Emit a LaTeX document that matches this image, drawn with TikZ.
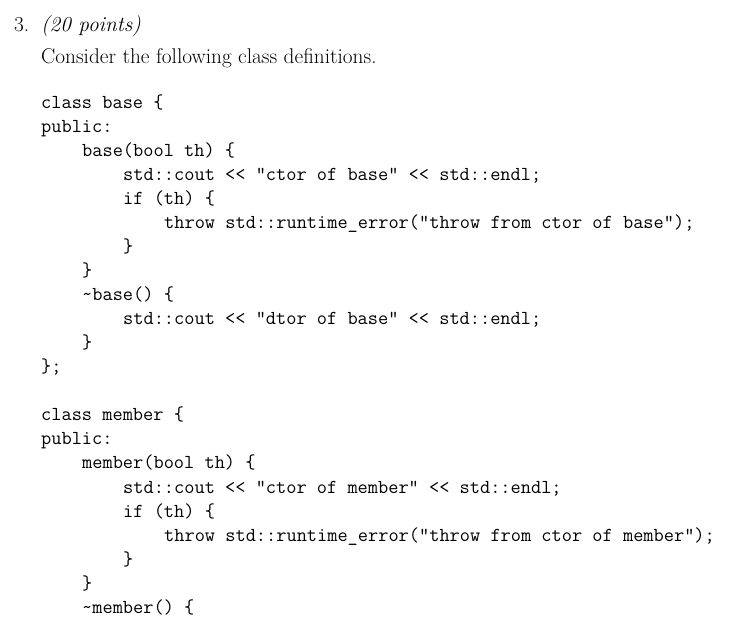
\documentclass[tikz,border=0pt]{standalone}
\usepackage{fontspec}
\begin{document}
\begin{tikzpicture}[x=1pt,y=-1pt,
  tt/.style={anchor=base west,inner sep=0pt,font=\fontsize{19.8}{22}\selectfont\ttfamily},
  rm/.style={anchor=base west,inner sep=0pt,font=\fontsize{21.3}{24}\selectfont}]
\useasboundingbox (0,0) rectangle (733,627);
\node[rm] (n) at (14,31) {3.};
\node[rm] (p) at (41,31) {\itshape (20 points)};
\node[rm] (c) at (41,63) {Consider the following class definitions.};
\node[tt] (l1) at (41,108) {class base \{};
\node[tt] (l2) at (41,132) {public:};
\node[tt] (l3) at (82,156) {base(bool th) \{};
\node[tt] (l4) at (123,180) {std::cout << "ctor of base" << std::endl;};
\node[tt] (l5) at (123,204) {if (th) \{};
\node[tt] (l6) at (164,228) {throw std::runtime\_error("throw from ctor of base");};
\node[tt] (l7) at (123,252) {\}};
\node[tt] (l8) at (82,276) {\}};
\node[tt] (l9) at (82,300) {\textasciitilde base() \{};
\node[tt] (l10) at (123,324) {std::cout << "dtor of base" << std::endl;};
\node[tt] (l11) at (82,348) {\}};
\node[tt] (l12) at (41,372) {\};};
\node[tt] (m1) at (41,420) {class member \{};
\node[tt] (m2) at (41,444) {public:};
\node[tt] (m3) at (82,468) {member(bool th) \{};
\node[tt] (m4) at (123,493) {std::cout << "ctor of member" << std::endl;};
\node[tt] (m5) at (123,517) {if (th) \{};
\node[tt] (m6) at (164,541) {throw std::runtime\_error("throw from ctor of member");};
\node[tt] (m7) at (123,565) {\}};
\node[tt] (m8) at (82,589) {\}};
\node[tt] (m9) at (82,613) {\textasciitilde member() \{};
\end{tikzpicture}
\end{document}
